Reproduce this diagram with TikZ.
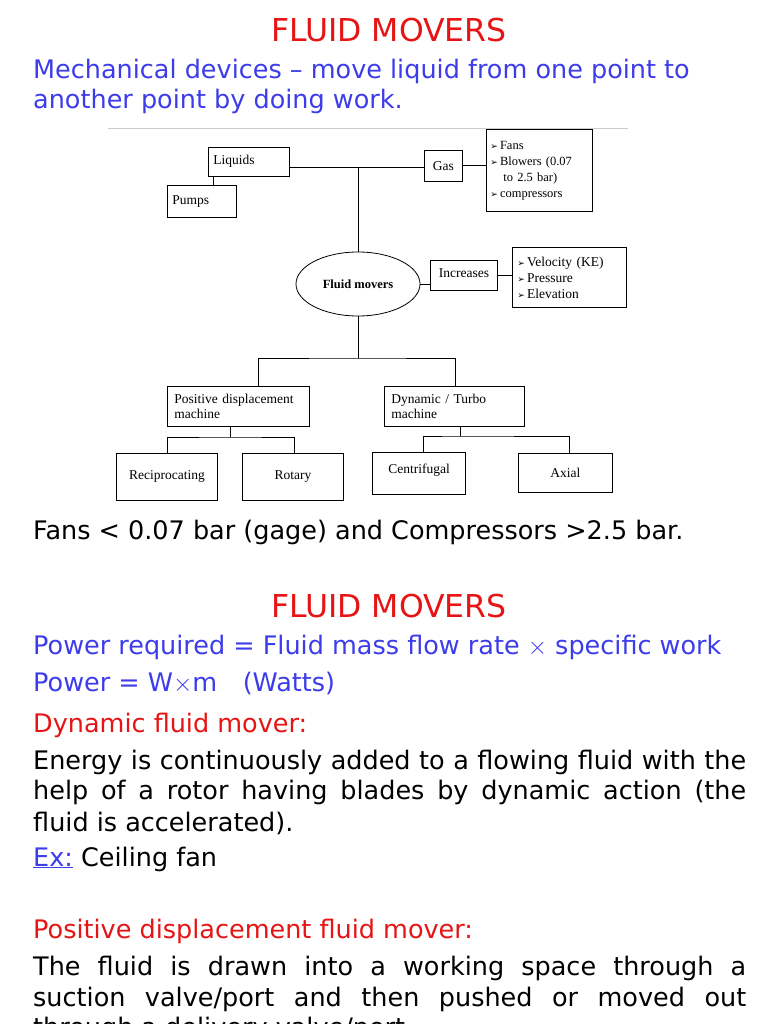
\documentclass[tikz,border=0pt]{standalone}
\usepackage{fontspec}
\setmainfont{DejaVu Sans}
\newfontfamily\serifd{Liberation Serif}
\usetikzlibrary{shapes.geometric}
\definecolor{tred}{RGB}{230,20,20}
\definecolor{tblue}{RGB}{60,60,235}
\newcommand{\bul}{{\fontspec{DejaVu Sans}\small ➢}\,}
\begin{document}
\begin{tikzpicture}[x=1pt,y=-1pt,
  box/.style={draw,line width=0.8pt,inner sep=0pt,font=\serifd\fontsize{13.5}{15}\selectfont},
  ln/.style={line width=0.8pt},
  title/.style={text=tred,font=\fontsize{31.5}{34}\selectfont,anchor=base},
  txt/.style={anchor=base west,inner sep=0pt,font=\fontsize{25.5}{28}\selectfont}]
\useasboundingbox[fill=white] (0,0) rectangle (768,1024);
\clip (0,0) rectangle (768,1024);
% texts
\node[title] (t1) at (389,42) {FLUID MOVERS};
\node[txt,text=tblue] (a1) at (33,79) {Mechanical devices -- move liquid from one point to};
\node[txt,text=tblue] (a2) at (33,109) {another point by doing work.};
\node[txt] (a3) at (33,539) {Fans < 0.07 bar (gage) and Compressors >2.5 bar.};
\node[title] (t2) at (389,617) {FLUID MOVERS};
\node[txt,text=tblue] (b1) at (33,654) {Power required = Fluid mass flow rate $\times$ specific work};
\node[txt,text=tblue] (b2) at (33,691) {Power = W$\times$m\quad(Watts)};
\node[txt,text=tred] (b3) at (33,732) {Dynamic fluid mover:};
\node[txt] (b4) at (33,769) {\makebox[713pt][s]{Energy is continuously added to a flowing fluid with the}};
\node[txt] (b5) at (33,799) {\makebox[713pt][s]{help of a rotor having blades by dynamic action (the}};
\node[txt] (b6) at (33,831) {fluid is accelerated).};
\node[txt] (b7) at (33,866) {{\color{tblue}\underline{Ex:}} Ceiling fan};
\node[txt,text=tred] (b8) at (33,938) {Positive displacement fluid mover:};
\node[txt] (b9) at (33,975) {\makebox[713pt][s]{The fluid is drawn into a working space through a}};
\node[txt] (b10) at (33,1006) {\makebox[713pt][s]{suction valve/port and then pushed or moved out}};
\node[txt] (b11) at (33,1036) {through a delivery valve/port.};
% diagram
\draw[gray!40,line width=1pt] (108,129) -- (628,129);
\node[box,minimum width=81pt,minimum height=29pt,anchor=north west,align=left,text width=71pt] (liq) at (208,147) {\raisebox{5pt}{Liquids}};
\node[box,minimum width=69pt,minimum height=32pt,anchor=north west,text width=59pt,align=left] (pump) at (167,185) {Pumps};
\node[box,minimum width=38pt,minimum height=31pt,anchor=north west] (gas) at (424,150) {Gas};
\node[box,minimum width=106pt,minimum height=82pt,anchor=north west,align=left,text width=98pt,font=\serifd\fontsize{12.5}{16}\selectfont] (fans) at (486,129) {\bul Fans\\\bul Blowers (0.07\\\hspace*{13pt}to 2.5 bar)\\\bul compressors};
\node[ellipse,draw,line width=0.8pt,minimum width=124pt,minimum height=64pt,font=\serifd\bfseries\fontsize{12.5}{14}\selectfont] (fm) at (358,284) {Fluid movers};
\node[box,minimum width=67pt,minimum height=30pt,anchor=north west] (inc) at (430,260) {\raisebox{4pt}{Increases}};
\node[box,minimum width=114pt,minimum height=60pt,anchor=north west,align=left,text width=104pt,font=\serifd\fontsize{13.5}{16}\selectfont] (vel) at (512,247) {\bul Velocity (KE)\\\bul Pressure\\\bul Elevation};
\node[box,minimum width=142pt,minimum height=40pt,anchor=north west,align=left,text width=128pt] (pd) at (167,386) {Positive displacement\\machine};
\node[box,minimum width=140pt,minimum height=40pt,anchor=north west,align=left,text width=126pt] (dy) at (384,386) {Dynamic / Turbo\\machine};
\node[box,minimum width=101pt,minimum height=47pt,anchor=north west] (rec) at (116,453) {Reciprocating};
\node[box,minimum width=101pt,minimum height=47pt,anchor=north west] (rot) at (242,453) {Rotary};
\node[box,line width=1.2pt,minimum width=93pt,minimum height=42pt,anchor=north west] (cen) at (372,452) {\raisebox{10pt}{Centrifugal}};
\node[box,minimum width=94pt,minimum height=39pt,anchor=north west] (ax) at (518,453) {Axial};
\coordinate (top) at (358,167);
\draw[ln] (liq.east |- top) -- (gas.west |- top);
\draw[ln] (top) -- (fm.north);
\draw[ln] (pump.north -| 213,0) -- (liq.south -| 213,0);
\draw[ln] (gas.east) -- (fans.west |- gas.east);
\draw[ln] (fm.east) -- (inc.west |- fm.east);
\draw[ln] (inc.east) -- (vel.west |- inc.east);
\coordinate (mid) at (358,358);
\draw[ln] (fm.south) -- (mid);
\draw[ln] (pd.north -| 258,0) |- (mid) -| (dy.north -| 455,0);
\coordinate (pdj) at (230,437);
\draw[ln] (pd.south -| pdj) -- (pdj);
\draw[ln] (rec.north -| 167,0) |- (pdj) -| (rot.north -| 294,0);
\coordinate (dyj) at (460,436);
\draw[ln] (dy.south -| dyj) -- (dyj);
\draw[ln] (cen.north -| 423,0) |- (dyj) -| (ax.north -| 569,0);
\end{tikzpicture}
\end{document}
